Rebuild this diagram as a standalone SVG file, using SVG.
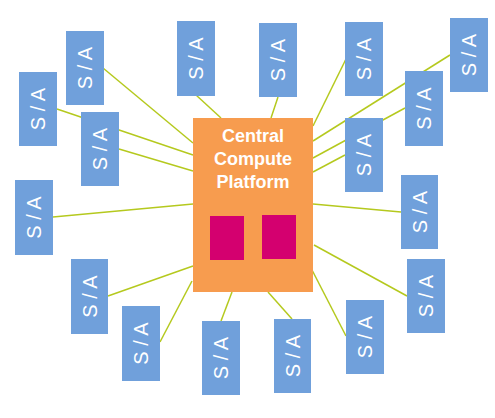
<svg xmlns="http://www.w3.org/2000/svg" width="495" height="418" viewBox="0 0 495 418">
<style>
.sa rect{fill:#70a0db}
.sa text{fill:#fff;font-family:"Liberation Sans",Arial,sans-serif;font-size:20px;text-anchor:middle}
#links line{stroke:#b5c91e;stroke-width:1.5}
.ct{fill:#fff;font-family:"Liberation Sans",Arial,sans-serif;font-size:18px;font-weight:bold;text-anchor:middle}
</style>
<rect width="495" height="418" fill="#fff"/>
<g id="links">
<line x1="103" y1="68" x2="193" y2="143"/>
<line x1="196" y1="95" x2="221" y2="118"/>
<line x1="57" y1="109" x2="193" y2="155"/>
<line x1="119" y1="149" x2="193" y2="171"/>
<line x1="53" y1="217" x2="193" y2="204"/>
<line x1="278" y1="97" x2="271" y2="118"/>
<line x1="346" y1="59" x2="313" y2="126"/>
<line x1="450" y1="55" x2="313" y2="141"/>
<line x1="405" y1="108" x2="313" y2="158"/>
<line x1="345" y1="155" x2="313" y2="172"/>
<line x1="313" y1="204" x2="401" y2="212"/>
<line x1="108" y1="296" x2="193" y2="266"/>
<line x1="160" y1="342" x2="192" y2="281"/>
<line x1="221" y1="321" x2="232" y2="292"/>
<line x1="292" y1="319" x2="268" y2="292"/>
<line x1="346" y1="336" x2="311" y2="268"/>
<line x1="407" y1="296" x2="314" y2="245"/>
</g>
<g id="central">
<rect x="193" y="118" width="120" height="174" fill="#f79c4f"/>
<text class="ct" x="253" y="142">Central</text>
<text class="ct" x="253" y="165">Compute</text>
<text class="ct" x="253" y="188">Platform</text>
<rect x="210" y="216" width="34" height="44" fill="#d4006f"/>
<rect x="262" y="215" width="34" height="44" fill="#d4006f"/>
</g>
<g id="sa-a" class="sa"><rect x="66" y="31" width="38" height="74"/><text transform="translate(85,68) rotate(-90)" y="7">S / A</text></g>
<g id="sa-b" class="sa"><rect x="19" y="72" width="38" height="74"/><text transform="translate(38,109) rotate(-90)" y="7">S / A</text></g>
<g id="sa-c" class="sa"><rect x="81" y="112" width="38" height="74"/><text transform="translate(100,149) rotate(-90)" y="7">S / A</text></g>
<g id="sa-d" class="sa"><rect x="177" y="21" width="38" height="75"/><text transform="translate(196,58.5) rotate(-90)" y="7">S / A</text></g>
<g id="sa-e" class="sa"><rect x="15" y="180" width="38" height="75"/><text transform="translate(34,217.5) rotate(-90)" y="7">S / A</text></g>
<g id="sa-f" class="sa"><rect x="259" y="23" width="38" height="74"/><text transform="translate(278,60) rotate(-90)" y="7">S / A</text></g>
<g id="sa-g" class="sa"><rect x="345" y="22" width="38" height="74"/><text transform="translate(364,59) rotate(-90)" y="7">S / A</text></g>
<g id="sa-h" class="sa"><rect x="450" y="18" width="38" height="74"/><text transform="translate(469,55) rotate(-90)" y="7">S / A</text></g>
<g id="sa-i" class="sa"><rect x="405" y="71" width="38" height="75"/><text transform="translate(424,108.5) rotate(-90)" y="7">S / A</text></g>
<g id="sa-j" class="sa"><rect x="345" y="118" width="38" height="74"/><text transform="translate(364,155) rotate(-90)" y="7">S / A</text></g>
<g id="sa-k" class="sa"><rect x="401" y="175" width="37" height="74"/><text transform="translate(419.5,212) rotate(-90)" y="7">S / A</text></g>
<g id="sa-l" class="sa"><rect x="71" y="259" width="37" height="75"/><text transform="translate(89.5,296.5) rotate(-90)" y="7">S / A</text></g>
<g id="sa-m" class="sa"><rect x="122" y="306" width="38" height="75"/><text transform="translate(141,343.5) rotate(-90)" y="7">S / A</text></g>
<g id="sa-n" class="sa"><rect x="202" y="321" width="38" height="74"/><text transform="translate(221,358) rotate(-90)" y="7">S / A</text></g>
<g id="sa-o" class="sa"><rect x="274" y="319" width="37" height="74"/><text transform="translate(292.5,356) rotate(-90)" y="7">S / A</text></g>
<g id="sa-p" class="sa"><rect x="346" y="300" width="38" height="74"/><text transform="translate(365,337) rotate(-90)" y="7">S / A</text></g>
<g id="sa-q" class="sa"><rect x="407" y="259" width="38" height="74"/><text transform="translate(426,296) rotate(-90)" y="7">S / A</text></g>
</svg>
